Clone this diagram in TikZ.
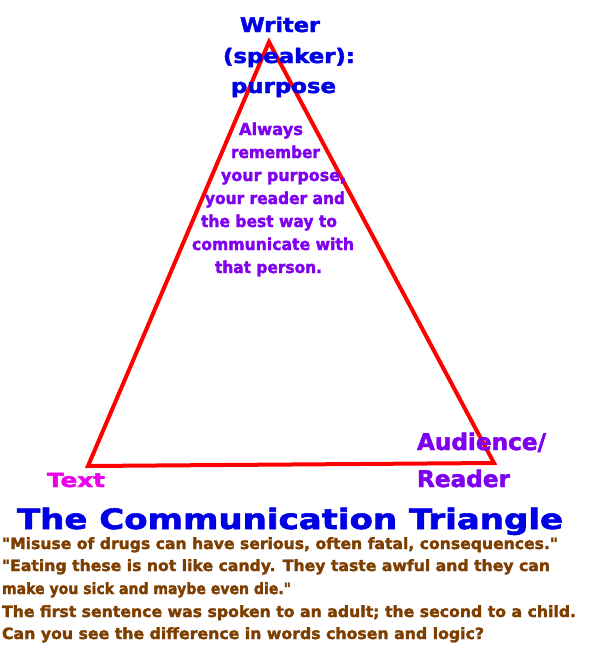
\documentclass[tikz,border=0pt]{standalone}
\usepackage{fontspec}
\usepackage{graphicx}
\setmainfont{DejaVu Sans}[Ligatures=TeXOff, BoldFeatures={FakeBold=2}]
\definecolor{wblue}{RGB}{0,0,228}
\definecolor{wpurple}{RGB}{128,0,240}
\definecolor{wmag}{RGB}{236,0,236}
\definecolor{wbrown}{RGB}{125,62,0}
\definecolor{wred}{RGB}{255,0,0}
\newcommand{\fitw}[2]{\resizebox{#1pt}{\height}{#2}}
\tikzset{
  lbl/.style={anchor=base west, inner sep=0pt, outer sep=0pt, font=\bfseries},
  writer/.style={lbl, text=wblue, font=\bfseries\fontsize{20}{21}\selectfont},
  note/.style={lbl, text=wpurple, font=\bfseries\fontsize{16.5}{17}\selectfont},
  aud/.style={lbl, text=wpurple, font=\bfseries\fontsize{23}{24}\selectfont},
  txt/.style={lbl, text=wmag, font=\bfseries\fontsize{19.5}{20}\selectfont},
  title/.style={lbl, text=wblue, font=\bfseries\fontsize{28}{29}\selectfont},
  body/.style={lbl, text=wbrown, font=\bfseries\fontsize{15.5}{16}\selectfont},
  side/.style={draw=wred, line width=4pt, line join=miter}
}
\begin{document}
\begin{tikzpicture}[x=1pt,y=-1pt]
\useasboundingbox[fill=white] (0,0) rectangle (599,653);
% triangle
\coordinate (top) at (269,42);
\coordinate (bl) at (88,466);
\coordinate (br) at (494,463);
\draw[side] (top) -- (br) -- (bl) -- cycle;
% writer
\node[writer] (w1) at (240,32) {\fitw{80}{Writer}};
\node[writer] (w2) at (223,63) {\fitw{132}{(speaker):}};
\node[writer] (w3) at (231,93) {\fitw{105}{purpose}};
% purple note
\node[note] (n1) at (239,135) {\fitw{64}{Always}};
\node[note] (n2) at (231,158) {\fitw{89}{remember}};
\node[note] (n3) at (221,181) {\fitw{125}{your purpose,}};
\node[note] (n4) at (205,204) {\fitw{140}{your reader and}};
\node[note] (n5) at (201,227) {\fitw{136}{the best way to}};
\node[note] (n6) at (192,250) {\fitw{162}{communicate with}};
\node[note] (n7) at (215,273) {\fitw{107}{that person.}};
% corners
\node[aud] (a1) at (417,450) {\fitw{129}{Audience/}};
\node[aud] (a2) at (417,487) {\fitw{93}{Reader}};
\node[txt] (t1) at (47,487) {\fitw{58}{Text}};
% title
\node[title] (ti) at (17,529) {\fitw{546}{The Communication Triangle}};
% body
\node[body] (b1) at (2,549) {\fitw{556}{"Misuse of drugs can have serious, often fatal, consequences."}};
\node[body] (b2) at (2,571) {\fitw{548}{"Eating these is not like candy. They taste awful and they can}};
\node[body] (b3) at (2,594) {\fitw{289}{make you sick and maybe even die."}};
\node[body] (b4) at (2,617) {\fitw{574}{The first sentence was spoken to an adult; the second to a child.}};
\node[body] (b5) at (2,639) {\fitw{482}{Can you see the difference in words chosen and logic?}};
\end{tikzpicture}
\end{document}
